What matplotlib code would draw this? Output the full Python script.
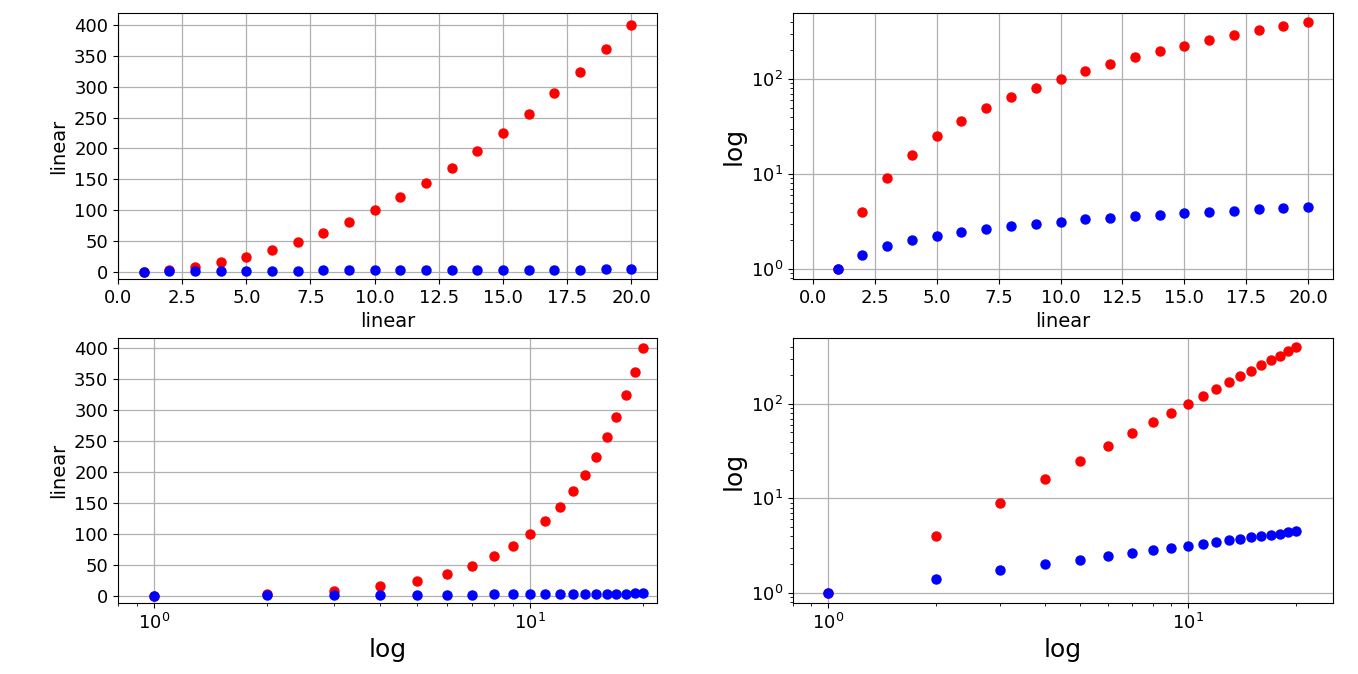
import matplotlib
matplotlib.use("Agg")
import matplotlib.pyplot as plt
from matplotlib.ticker import MultipleLocator

x = [1, 2, 3, 4, 5, 6, 7, 8, 9, 10, 11, 12, 13, 14, 15, 16, 17, 18, 19, 20]
red_vals = [1, 4, 9, 16, 25, 36, 49, 64, 81, 100, 121, 144, 169, 196, 225,
            256, 289, 324, 361, 400]
blue_vals = [1.0, 1.41, 1.73, 2.0, 2.24, 2.45, 2.65, 2.83, 3.0, 3.16, 3.32,
             3.46, 3.61, 3.74, 3.87, 4.0, 4.12, 4.24, 4.36, 4.47]

fig = plt.figure(figsize=(13.58, 6.74), dpi=100)

W, H = 1358, 674
def rect(l, t, r, b):
    return [l / W, 1 - b / H, (r - l) / W, (b - t) / H]

ax1 = fig.add_axes(rect(118, 13, 657, 279))
ax2 = fig.add_axes(rect(793, 13, 1333, 279))
ax3 = fig.add_axes(rect(118, 338, 657, 603))
ax4 = fig.add_axes(rect(793, 338, 1333, 603))

for ax in (ax1, ax2, ax3, ax4):
    ax.plot(x, red_vals, 'o', color='red', markersize=6.5)
    ax.plot(x, blue_vals, 'o', color='blue', markersize=6.5)
    ax.grid(True, color='#b0b0b0', linewidth=0.9)
    ax.tick_params(labelsize=13)

# top-left: linear / linear
ax1.set_xlim(0, 21)
ax1.set_ylim(-11, 419)
ax1.yaxis.set_major_locator(MultipleLocator(50))
ax1.set_xlabel('linear', fontsize=14)
ax1.set_ylabel('linear', fontsize=14)

# top-right: linear x / log y
ax2.set_yscale('log')
ax2.set_xlim(-0.8, 21)
ax2.set_ylim(0.785, 495)
ax2.set_xlabel('linear', fontsize=14)
ax2.set_ylabel('log', fontsize=18)

# bottom-left: log x / linear y
ax3.set_xscale('log')
ax3.set_xlim(0.8, 21.8)
ax3.set_ylim(-11, 416)
ax3.yaxis.set_major_locator(MultipleLocator(50))
ax3.set_xlabel('log', fontsize=18)
ax3.set_ylabel('linear', fontsize=14)

# bottom-right: log / log
ax4.set_xscale('log')
ax4.set_yscale('log')
ax4.set_xlim(0.8, 25.3)
ax4.set_ylim(0.78, 499)
ax4.set_xlabel('log', fontsize=18)
ax4.set_ylabel('log', fontsize=18)

fig.savefig('out.png', dpi=100)
